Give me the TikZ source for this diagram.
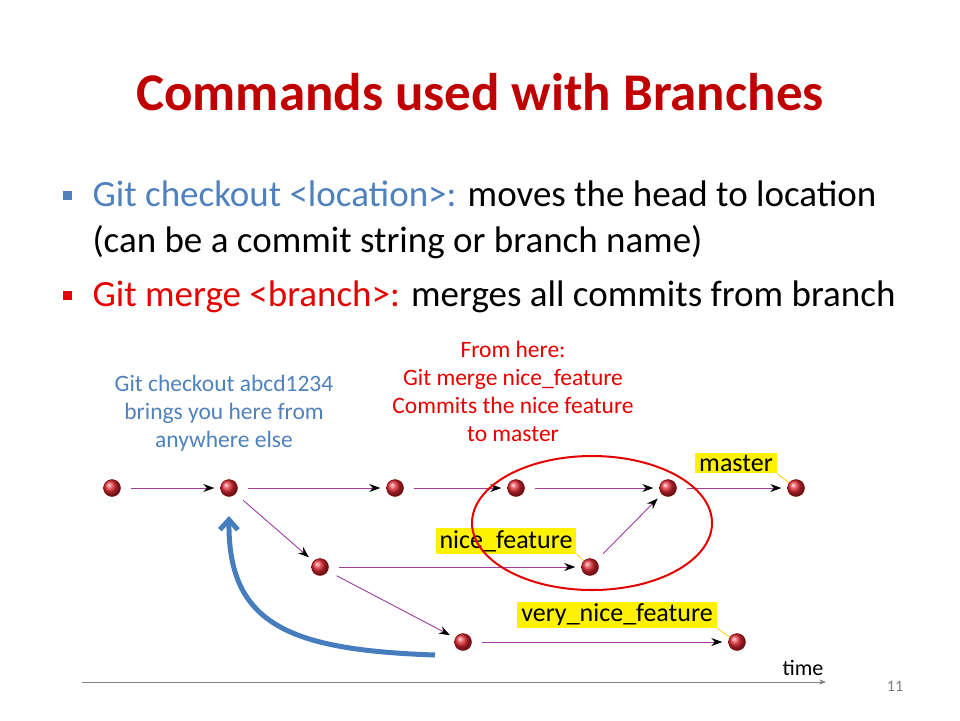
\documentclass[tikz,border=0pt]{standalone}
\usepackage{fontspec}
\setmainfont{Carlito}
\usetikzlibrary{arrows.meta}
\definecolor{titlered}{RGB}{192,0,0}
\definecolor{bblue}{RGB}{79,129,189}
\definecolor{bred}{RGB}{230,0,0}
\definecolor{edgep}{RGB}{160,60,160}
\definecolor{arrblue}{RGB}{70,125,190}
\definecolor{ballred}{RGB}{225,40,50}
\tikzset{
  commit/.style={circle,minimum size=17pt,inner sep=0pt,ball color=ballred,draw=red!50!black,line width=0.4pt},
  edge/.style={draw=edgep,line width=0.9pt,-{Stealth[length=11pt,width=8pt,black]},shorten <=10pt,shorten >=6pt},
  tag/.style={fill=yellow,font=\fontsize{26}{28}\selectfont,inner sep=2pt,inner xsep=4pt,text=black},
  tagline/.style={draw=yellow!70!orange,line width=0.8pt},
  note/.style={align=center,font=\fontsize{23.5}{28}\selectfont}
}
\begin{document}
\begin{tikzpicture}[x=1pt,y=-1pt]
\useasboundingbox (0,0) rectangle (960,720);
\node[font=\fontsize{53}{56}\selectfont\bfseries,text=titlered] (title) at (480,92) {Commands used with Branches};
\node[fill=bblue,minimum size=9pt,inner sep=0pt] (b1) at (67,195) {};
\node[fill=bred,minimum size=9pt,inner sep=0pt] (b2) at (67,295) {};
\node[anchor=west,align=left,font=\fontsize{37}{46}\selectfont] (t1) at (89,220) {\textcolor{bblue}{Git checkout <location>:} moves the head to location\\(can be a commit string or branch name)};
\node[anchor=west,font=\fontsize{37}{46}\selectfont] (t2) at (89,297) {\textcolor{bred}{Git merge <branch>:} merges all commits from branch};
\node[note,text=bblue] (nb) at (224,413) {Git checkout abcd1234\\brings you here from\\anywhere else};
\node[note,text=bred] (nr) at (513,391) {From here:\\Git merge nice\_feature\\Commits the nice feature\\to master};
\node[commit] (n1) at (112,488) {};
\node[commit] (n2) at (229,488) {};
\node[commit] (n3) at (395,488) {};
\node[commit] (n4) at (516,488) {};
\node[commit] (n5) at (668,488) {};
\node[commit] (n6) at (796,488) {};
\node[commit] (f1) at (320,567) {};
\node[commit] (f2) at (590,567) {};
\node[commit] (v1) at (463,642) {};
\node[commit] (v2) at (737,642) {};
\draw[edge] (n1)--(n2); \draw[edge] (n2)--(n3); \draw[edge] (n3)--(n4);
\draw[edge] (n4)--(n5); \draw[edge] (n5)--(n6);
\draw[edge] (n2)--(f1); \draw[edge] (f1)--(f2); \draw[edge] (f2)--(n5);
\draw[edge] (f1)--(v1); \draw[edge] (v1)--(v2);
\node[tag] (tm) at (736,463) {master};
\node[tag] (tn) at (506,541) {nice\_feature};
\node[tag] (tv) at (617,615) {very\_nice\_feature};
\draw[tagline] (tm.south east)--(n6);
\draw[tagline] (tn.south east)--(f2);
\draw[tagline] (tv.south east)--(v2);
\draw[red!90!black,line width=2pt] (592,523) ellipse [x radius=120, y radius=67];
\coordinate (bs) at (435,655);
\draw[arrblue,line width=5pt,-{Straight Barb[length=10pt,width=18pt]}] (bs) .. controls (290,650) and (228,625) .. (n2.south|-0,516);
\coordinate (ta) at (82,682);
\coordinate (tb) at (826,682);
\draw[gray,line width=0.8pt,-{Stealth[length=7pt]}] (ta)--(tb);
\node[font=\fontsize{22}{24}\selectfont] (time) at (803,668) {time};
\node[font=\fontsize{16}{18}\selectfont,text=gray] (pg) at (895,686) {11};
\end{tikzpicture}
\end{document}
